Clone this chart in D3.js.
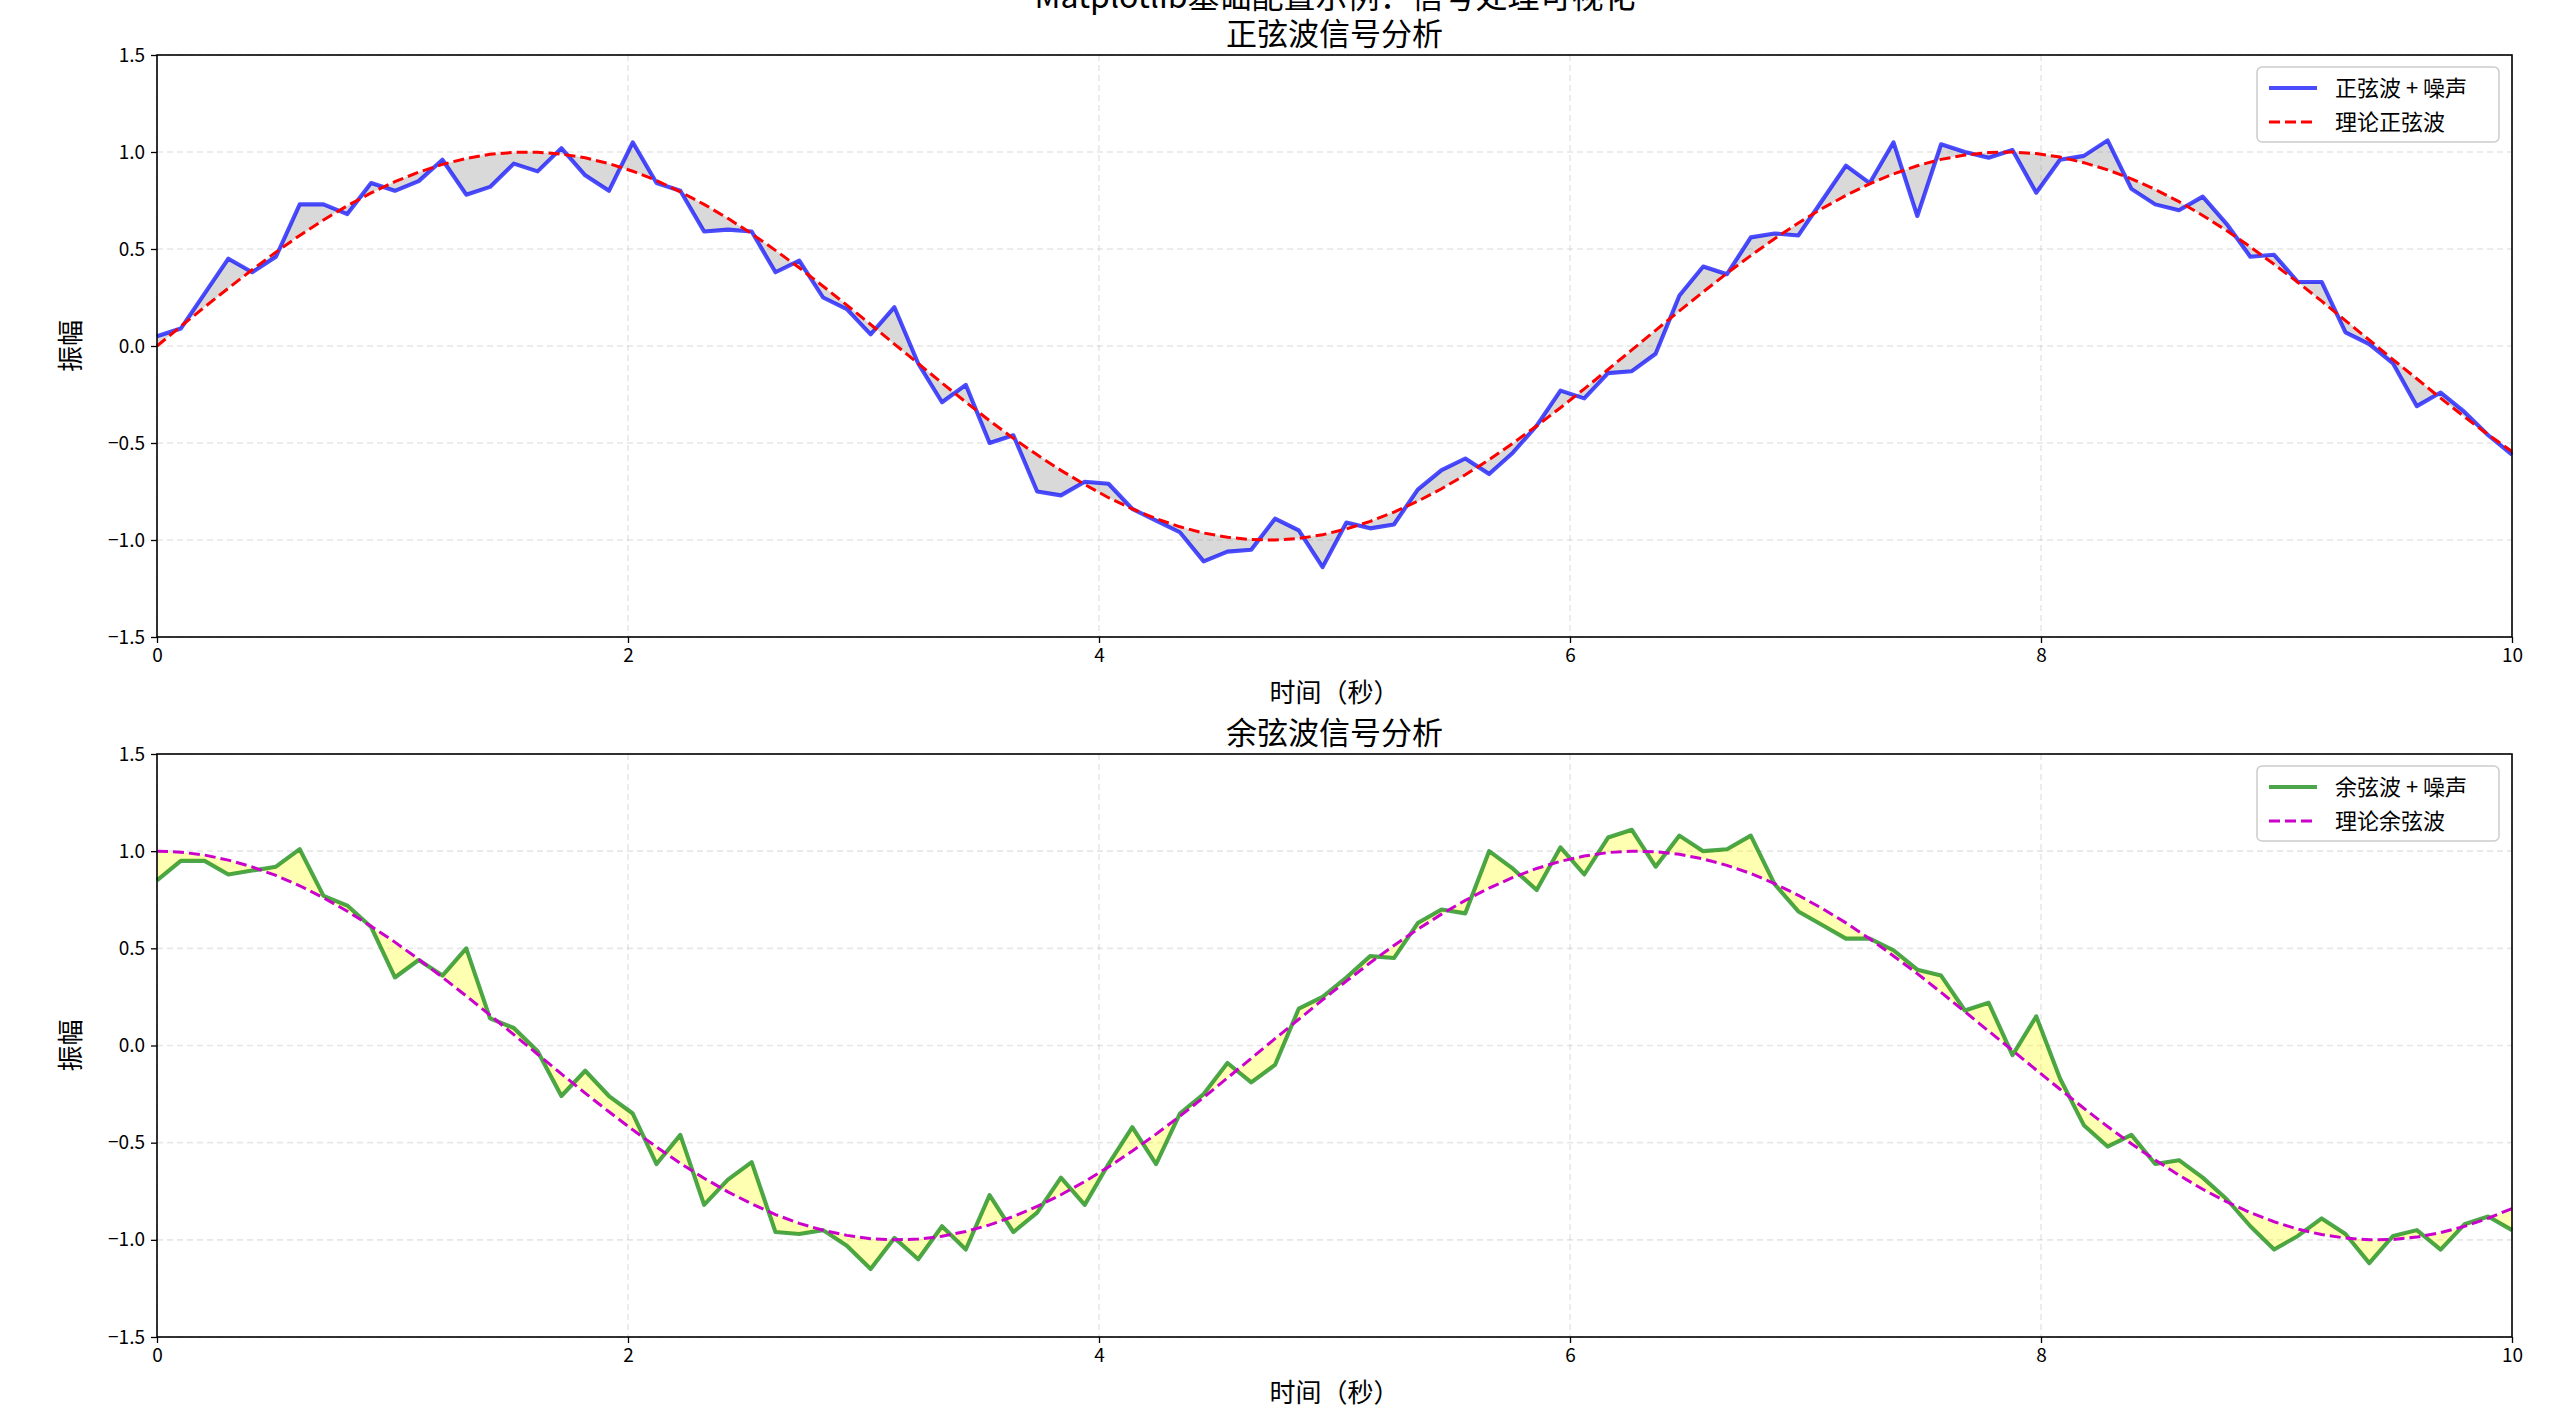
<!DOCTYPE html>
<html><head><meta charset="utf-8">
<script src="https://cdn.jsdelivr.net/npm/d3@7"></script>
<style>body{margin:0;background:#fff}svg{display:block}text{font-family:"Noto Sans CJK SC","DejaVu Sans",sans-serif}</style>
</head><body><svg id="c" width="2559" height="1419"></svg>
<script>
const N = 100;
const xs = d3.range(N).map(i => i * 10 / 99);
const sinNoisy = [0.05,0.09,0.27,0.45,0.38,0.46,0.73,0.73,0.68,0.84,0.80,0.85,0.96,0.78,0.82,0.94,0.90,1.02,0.88,0.80,1.05,0.84,0.80,0.59,0.60,0.59,0.38,0.44,0.25,0.19,0.06,0.20,-0.09,-0.29,-0.20,-0.50,-0.46,-0.75,-0.77,-0.70,-0.71,-0.84,-0.90,-0.96,-1.11,-1.06,-1.05,-0.89,-0.95,-1.14,-0.91,-0.94,-0.92,-0.74,-0.64,-0.58,-0.66,-0.55,-0.41,-0.23,-0.27,-0.14,-0.13,-0.04,0.26,0.41,0.37,0.56,0.58,0.57,0.75,0.93,0.84,1.05,0.67,1.04,1.00,0.97,1.01,0.79,0.96,0.98,1.06,0.81,0.73,0.70,0.77,0.63,0.46,0.47,0.33,0.33,0.07,0.01,-0.09,-0.31,-0.24,-0.34,-0.46,-0.56];
const sinTheory = [0,0.101,0.201,0.298,0.393,0.484,0.570,0.650,0.723,0.789,0.847,0.896,0.936,0.967,0.988,0.998,0.999,0.989,0.970,0.940,0.901,0.853,0.795,0.730,0.658,0.579,0.493,0.403,0.308,0.211,0.111,0.010,-0.090,-0.191,-0.289,-0.385,-0.476,-0.561,-0.641,-0.714,-0.782,-0.840,-0.890,-0.932,-0.964,-0.986,-0.998,-1.000,-0.992,-0.973,-0.943,-0.904,-0.856,-0.800,-0.736,-0.664,-0.586,-0.501,-0.412,-0.318,-0.221,-0.121,-0.020,0.081,0.181,0.279,0.375,0.466,0.553,0.634,0.709,0.776,0.836,0.887,0.929,0.962,0.984,0.997,1.000,0.992,0.974,0.945,0.908,0.862,0.807,0.744,0.673,0.595,0.511,0.421,0.328,0.231,0.131,0.031,-0.070,-0.169,-0.269,-0.365,-0.457,-0.544];
const cosNoisy = [0.85,0.95,0.95,0.88,0.90,0.92,1.01,0.77,0.72,0.61,0.35,0.44,0.36,0.50,0.14,0.09,-0.03,-0.26,-0.13,-0.26,-0.35,-0.61,-0.46,-0.82,-0.69,-0.60,-0.96,-0.97,-0.95,-1.03,-1.15,-0.99,-1.10,-0.93,-1.05,-0.77,-0.96,-0.86,-0.68,-0.82,-0.61,-0.42,-0.61,-0.35,-0.25,-0.09,-0.19,-0.10,0.19,0.25,0.35,0.46,0.45,0.63,0.70,0.68,1.00,0.91,0.80,1.02,0.88,1.07,1.11,0.92,1.08,1.00,1.01,1.08,0.83,0.69,0.62,0.55,0.55,0.49,0.39,0.36,0.18,0.22,-0.05,0.15,-0.17,-0.41,-0.52,-0.46,-0.61,-0.59,-0.68,-0.79,-0.93,-1.05,-0.98,-0.89,-0.97,-1.12,-0.98,-0.95,-1.05,-0.92,-0.88,-0.95];
const cosTheory = [1,0.995,0.980,0.954,0.919,0.875,0.822,0.760,0.691,0.614,0.532,0.444,0.351,0.255,0.156,0.056,-0.045,-0.146,-0.245,-0.341,-0.434,-0.522,-0.606,-0.683,-0.753,-0.815,-0.870,-0.915,-0.951,-0.977,-0.994,-1.000,-0.996,-0.982,-0.957,-0.923,-0.880,-0.828,-0.768,-0.700,-0.625,-0.543,-0.456,-0.364,-0.267,-0.167,-0.066,0.035,0.135,0.235,0.331,0.426,0.515,0.598,0.676,0.747,0.810,0.865,0.911,0.948,0.975,0.993,1.000,0.997,0.984,0.960,0.927,0.885,0.833,0.773,0.705,0.631,0.549,0.461,0.370,0.273,0.174,0.074,-0.025,-0.126,-0.225,-0.323,-0.417,-0.506,-0.589,-0.667,-0.740,-0.804,-0.860,-0.907,-0.945,-0.973,-0.991,-1.000,-0.998,-0.986,-0.963,-0.931,-0.889,-0.839];
const xTicks = [0,2,4,6,8,10];
const yTicks = [-1.5,-1.0,-0.5,0.0,0.5,1.0,1.5];

const svg = d3.select("#c");
svg.append("text").attr("x",1335).attr("y",8).attr("text-anchor","middle").attr("font-size",32).text("Matplotlib基础配置示例：信号处理可视化");

function panel(top, bottom, title, noisy, theory, noisyColor, theoryColor, fillColor, fillOp, lab1, lab2){
  const L=157, R=2512;
  const x = d3.scaleLinear().domain([0,10]).range([L,R]);
  const y = d3.scaleLinear().domain([-1.5,1.5]).range([bottom,top]);
  const g = svg.append("g");
  // grid
  g.selectAll(".gx").data(xTicks).join("line").attr("x1",d=>x(d)).attr("x2",d=>x(d)).attr("y1",top).attr("y2",bottom)
    .attr("stroke","#b0b0b0").attr("stroke-opacity",0.3).attr("stroke-dasharray","6,4").attr("stroke-width",1.6);
  g.selectAll(".gy").data(yTicks).join("line").attr("y1",d=>y(d)).attr("y2",d=>y(d)).attr("x1",L).attr("x2",R)
    .attr("stroke","#b0b0b0").attr("stroke-opacity",0.3).attr("stroke-dasharray","6,4").attr("stroke-width",1.6);
  const idx = d3.range(N);
  g.append("path").datum(idx).attr("fill",fillColor).attr("fill-opacity",fillOp)
    .attr("d", d3.area().x(i=>x(xs[i])).y0(i=>y(theory[i])).y1(i=>y(noisy[i])));
  g.append("path").datum(idx).attr("fill","none").attr("stroke",noisyColor).attr("stroke-width",4.1).attr("stroke-linejoin","round")
    .attr("d", d3.line().x(i=>x(xs[i])).y(i=>y(noisy[i])));
  g.append("path").datum(idx).attr("fill","none").attr("stroke",theoryColor).attr("stroke-width",3).attr("stroke-dasharray","11,5")
    .attr("d", d3.line().x(i=>x(xs[i])).y(i=>y(theory[i])));
  // axes
  const ax = g.append("g").attr("transform",`translate(0,${bottom})`).call(d3.axisBottom(x).tickValues(xTicks).tickFormat(d3.format("d")).tickSize(6).tickPadding(6));
  const ay = g.append("g").attr("transform",`translate(${L},0)`).call(d3.axisLeft(y).tickValues(yTicks).tickFormat(d3.format(".1f")).tickSize(6).tickPadding(6));
  [ax,ay].forEach(a=>{a.selectAll("text").attr("font-size",19).attr("font-family","DejaVu Sans").attr("fill","#000");a.select(".domain").remove();a.selectAll("line").attr("stroke-width",1.3);});
  g.append("rect").attr("x",L).attr("y",top).attr("width",R-L).attr("height",bottom-top).attr("fill","none").attr("stroke","#000").attr("stroke-width",1.6);
  g.append("text").attr("x",(L+R)/2).attr("y",top-10).attr("text-anchor","middle").attr("font-size",31).text(title);
  g.append("text").attr("x",(L+R)/2).attr("y",bottom+65).attr("text-anchor","middle").attr("font-size",26).text("时间（秒）");
  g.append("text").attr("transform",`translate(80,${(top+bottom)/2}) rotate(-90)`).attr("text-anchor","middle").attr("font-size",26).text("振幅");
  // legend
  const lg = g.append("g").attr("transform",`translate(2257,${top+12})`);
  lg.append("rect").attr("width",242).attr("height",75).attr("rx",5).attr("fill","#fff").attr("fill-opacity",0.8).attr("stroke","#ccc").attr("stroke-width",1.5);
  lg.append("line").attr("x1",12).attr("x2",60).attr("y1",21).attr("y2",21).attr("stroke",noisyColor).attr("stroke-width",4.1);
  lg.append("line").attr("x1",12).attr("x2",60).attr("y1",55).attr("y2",55).attr("stroke",theoryColor).attr("stroke-width",3).attr("stroke-dasharray","11,5");
  lg.append("text").attr("x",78).attr("y",29).attr("font-size",22).text(lab1);
  lg.append("text").attr("x",78).attr("y",63).attr("font-size",22).text(lab2);
}
panel(55,637,"正弦波信号分析",sinNoisy,sinTheory,"rgba(0,0,255,0.7)","#ff0000","#808080",0.3,"正弦波 + 噪声","理论正弦波");
panel(754,1337,"余弦波信号分析",cosNoisy,cosTheory,"rgba(0,128,0,0.7)","#cc00cc","#ffff00",0.3,"余弦波 + 噪声","理论余弦波");
</script></body></html>
